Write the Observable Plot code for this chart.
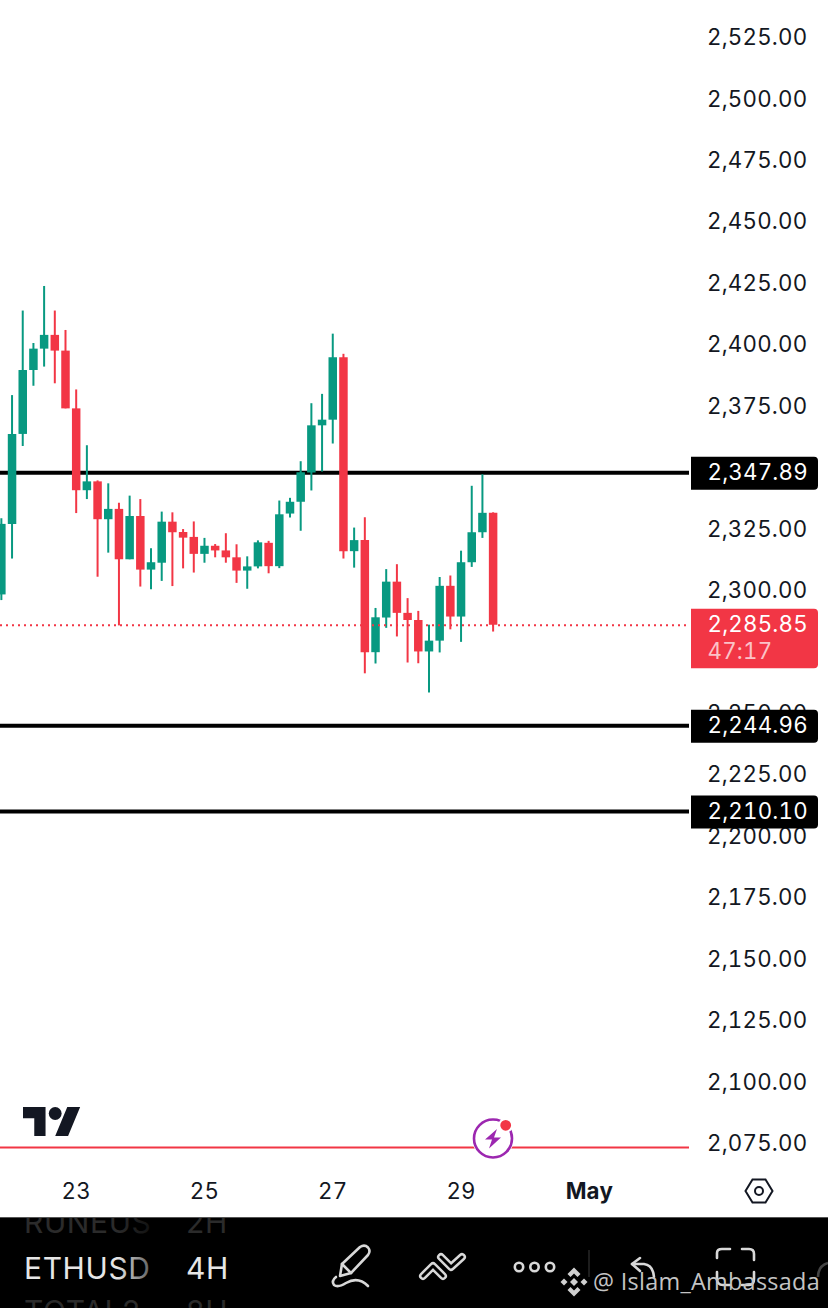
<!DOCTYPE html>
<html>
<head>
<meta charset="utf-8">
<script src="https://cdn.jsdelivr.net/npm/d3@7"></script>
<script src="https://cdn.jsdelivr.net/npm/@observablehq/plot@0.6"></script>
<style>
html,body{margin:0;padding:0;background:#fff;}
#page{position:relative;width:828px;height:1308px;overflow:hidden;background:#fff;}
#chart svg{display:block;overflow:hidden;}
#footer{position:absolute;left:0;top:1217px;width:828px;height:91px;background:#000;border-top:1px solid #555;box-sizing:border-box;}
#overlay{position:absolute;left:0;top:0;pointer-events:none;}
#overlay text{font-family:Inter,sans-serif;}
</style>
</head>
<body>
<div id="page">
<div id="chart"></div>
<div id="footer"></div>
<svg id="overlay" width="828" height="1308" viewBox="0 0 828 1308">
  <defs>
    <clipPath id="foot"><rect x="0" y="1218" width="828" height="90"/></clipPath>
    <linearGradient id="fadeMain" gradientUnits="userSpaceOnUse" x1="24" x2="153" y1="0" y2="0">
      <stop offset="0.72" stop-color="#e6e6e6"/><stop offset="1" stop-color="#555"/>
    </linearGradient>
    <linearGradient id="fadeDim" gradientUnits="userSpaceOnUse" x1="24" x2="153" y1="0" y2="0">
      <stop offset="0.72" stop-color="#2b2b2b"/><stop offset="1" stop-color="#101010"/>
    </linearGradient>
  </defs>
  <!-- TradingView mark -->
  <g transform="translate(23 1100.6) scale(1.61)" fill="#131722">
    <path d="M14 22H7V11H0V4h14v18zM28 22h-8l7.5-18h8L28 22z"/><circle cx="20" cy="8" r="4"/>
  </g>
  <!-- lightning badge -->
  <circle cx="493" cy="1138.5" r="21" fill="#fff"/>
  <circle cx="493" cy="1138.5" r="19" fill="none" stroke="#9c27b0" stroke-width="2.6"/>
  <path d="M497 1129 L485 1139.5 L492 1139.5 L489 1148.5 L501 1137.5 L494 1137.5 Z" fill="#9c27b0"/>
  <circle cx="505.7" cy="1125.3" r="6.4" fill="#f23645" stroke="#fff" stroke-width="2"/>
  <!-- settings hexagon -->
  <g fill="none" stroke="#131722" stroke-width="2">
    <path d="M752.5 1179.5 H765.5 L772.5 1191 L765.5 1202.500 H752.5 L745.5 1191 Z"/>
    <circle cx="759" cy="1191" r="4"/>
  </g>
  <g clip-path="url(#foot)">
    <g font-size="30" letter-spacing="0.6">
      <text x="24" y="1233" fill="url(#fadeDim)">RUNEUS</text>
      <text x="186" y="1233" fill="#2b2b2b">2H</text>
      <text x="24" y="1278.500" fill="url(#fadeMain)">ETHUSD</text>
      <text x="186" y="1278.500" fill="#e6e6e6">4H</text>
      <text x="24" y="1322" fill="#2b2b2b">TOTAL2</text>
      <text x="186" y="1322" fill="#2b2b2b">8H</text>
    </g>
    <!-- pencil -->
    <g fill="none" stroke="#d8d8d8" stroke-width="2.6" stroke-linejoin="round" stroke-linecap="round">
      <path d="M340 1276 L342 1264 L360 1247 Q364.500 1244 368 1247.500 Q371 1251 368 1255 L351 1273 Z"/>
      <path d="M342 1264 L351 1273"/>
      <path d="M336 1277 Q331 1281 334 1285 Q338 1288 346 1283 Q358 1276 368 1286"/>
    </g>
    <!-- strokes icon -->
    <g fill="none" stroke-linejoin="round" stroke-linecap="round">
      <path d="M423 1276 L433 1266 L443 1276 M441 1257 L451 1267 L462 1257" stroke="#d8d8d8" stroke-width="8"/>
      <path d="M423 1276 L433 1266 L443 1276 M441 1257 L451 1267 L462 1257" stroke="#000" stroke-width="3"/>
    </g>
    <!-- three dots -->
    <g fill="none" stroke="#d8d8d8" stroke-width="2.600">
      <circle cx="519" cy="1267" r="4.200"/><circle cx="534.500" cy="1267" r="4.200"/><circle cx="550" cy="1267" r="4.200"/>
    </g>
    <path d="M589 1250 V1277" stroke="#3a3a3a" stroke-width="1"/>
    <!-- undo -->
    <g fill="none" stroke="#d8d8d8" stroke-width="2.600" stroke-linecap="round" stroke-linejoin="round">
      <path d="M640 1258 L632 1264 L640 1271"/>
      <path d="M632 1264 H644 Q653 1265 654 1277"/>
      <path d="M717 1258 V1253 Q717 1249 722 1249 H730 M742 1249 H749 Q754 1249 754 1254 V1260"/>
      <path d="M717 1272 V1279 Q717 1285 723 1285 H730 M742 1285 H749 Q754 1285 754 1279 V1272"/>
    </g>
    <path d="M818 1277 Q818 1266 828 1263" fill="none" stroke="#444" stroke-width="2.600"/>
    <!-- watermark -->
    <g fill="#d0d0d0">
      <path d="M574 1267.500 L580.500 1274 L577.500 1277 L574 1273.500 L570.500 1277 L567.500 1274 Z"/>
      <path d="M574 1296.500 L580.500 1290 L577.500 1287 L574 1290.500 L570.500 1287 L567.500 1290 Z"/>
      <path d="M574 1278 L578 1282 L574 1286 L570 1282 Z"/>
      <path d="M564 1278.500 L567.500 1282 L564 1285.500 L560.500 1282 Z"/>
      <path d="M584 1278.500 L587.500 1282 L584 1285.500 L580.500 1282 Z"/>
    </g>
    <text x="593" y="1290" fill="#c4c4c4" style="font-family:'Open Sans',sans-serif" font-size="23.400" letter-spacing="0.3">@ Islam_Ambassada</text>
  </g>
</svg>
</div>
<script>
// Price levels and axis (labels for 2,275 and 2,350 sit fully behind the price tags)
const priceTicks = [2075,2100,2125,2150,2175,2200,2225,2250,2300,2325,2375,2400,2425,2450,2475,2500,2525];
const levelLines = [2347.89, 2244.96, 2210.10];
const lastPrice = 2285.85;
const countdown = "47:17";
const dayTicks = [new Date(Date.UTC(2026,3,23)), new Date(Date.UTC(2026,3,25)), new Date(Date.UTC(2026,3,27)), new Date(Date.UTC(2026,3,29))];
const monthTicks = [new Date(Date.UTC(2026,4,1))];
const firstCandle = Date.UTC(2026,3,21,20);   // 4-hour bars

const opens  = [2298.2,2326.9,2363.5,2389.5,2398.2,2403.8,2397.4,2373.9,2340.6,2344.2,2328.8,2333.0,2312.5,2330.1,2308.3,2311.1,2327.8,2323.6,2321.6,2314.7,2318.0,2316.1,2313.3,2307.9,2309.6,2319.2,2309.7,2331.1,2335.9,2347.8,2367.0,2369.3,2394.7,2315.8,2320.3,2274.7,2288.8,2303.4,2290.7,2287.8,2275.0,2279.4,2301.7,2289.2,2311.3,2323.5,2331.4];
const closes = [2326.9,2363.5,2389.5,2398.2,2403.8,2397.4,2373.9,2340.6,2344.2,2328.8,2333.0,2312.5,2330.1,2308.3,2311.3,2327.8,2323.5,2321.3,2314.7,2318.0,2316.1,2313.3,2307.9,2309.6,2319.4,2309.7,2330.8,2335.9,2347.9,2367.0,2369.3,2394.7,2315.8,2320.3,2274.7,2288.9,2303.4,2290.7,2287.8,2275.0,2279.4,2301.7,2289.2,2311.3,2323.5,2331.4,2285.85];
const highs  = [2329.2,2379.3,2413.7,2400.5,2423.7,2413.7,2405.8,2381.6,2358.9,2344.6,2343.4,2335.5,2338.4,2337.0,2317.0,2331.9,2331.6,2324.8,2327.9,2321.2,2318.7,2323.1,2318.6,2313.7,2320.2,2320.0,2336.4,2337.5,2352.4,2376.0,2379.8,2404.3,2396.1,2325.4,2329.6,2292.7,2308.5,2310.5,2296.7,2291.5,2285.9,2305.3,2305.9,2316.0,2342.4,2347.1,2331.6];
const lows   = [2295.9,2312.8,2358.6,2383.1,2390.9,2384.1,2373.9,2331.3,2337.0,2305.4,2315.2,2285.6,2312.5,2301.4,2300.3,2303.7,2301.6,2308.8,2307.1,2311.1,2313.3,2311.1,2302.9,2300.5,2308.8,2306.8,2308.9,2329.5,2324.1,2340.5,2348.2,2359.6,2312.8,2309.1,2266.1,2270.1,2284.6,2281.1,2270.5,2270.2,2258.3,2274.6,2284.0,2278.9,2309.4,2321.2,2283.1];

const FOUR_H = 4*3600*1000;
const candles = opens.map((o,i) => ({
  t: new Date(firstCandle + i*FOUR_H), o, c: closes[i], h: highs[i], l: lows[i],
  col: closes[i] >= o ? "#089981" : "#f23645"
}));

const fontStack = "Inter,sans-serif";
function priceTags(index, scales){
  const g = d3.create("svg:g").attr("text-anchor", "start").attr("font-variant", "tabular-nums");
  const box = (yTop, h, fill) => g.append("path")
    .attr("d", `M691 ${yTop} H814 Q818 ${yTop} 818 ${yTop+4} V${yTop+h-4} Q818 ${yTop+h} 814 ${yTop+h} H691 Z`)
    .attr("fill", fill);
  const label = (txt, y, fill) => g.append("text").text(txt)
    .attr("x", 707.5).attr("y", y).attr("dy", "0.35em")
    .attr("fill", fill).attr("font-family", fontStack)
    .attr("font-size", 22.3).attr("letter-spacing", 0.2);
  const fmt = d3.format(",.2f");
  for (const v of levelLines) {
    const y = scales.y(v);
    box(y-15.5, 33, "#000");
    label(fmt(v), y, "#fff");
  }
  const y = scales.y(lastPrice);
  box(y-16, 59.5, "#f23645");
  label(fmt(lastPrice), y-1, "#fff");
  label(countdown, y+26, "#fbc2c7");
  return g.node();
}

const chart = Plot.plot({
  width: 828, height: 1217,
  marginTop: 0, marginRight: 139, marginBottom: 47, marginLeft: 0,
  style: {fontFamily:fontStack, fontSize:"22.3px", background:"#fff", color:"#131722", letterSpacing:"0.2px"},
  x: {type:"utc", domain:[new Date(Date.UTC(2026,3,23) - 7.08*FOUR_H), new Date(Date.UTC(2026,3,23) + 57.37*FOUR_H)]},
  y: {domain:[2064.02, 2540.05], range:[1170,0]},
  marks: [
    Plot.ruleY(levelLines, {stroke:"#000", strokeWidth:4}),
    Plot.ruleY([2073.4], {stroke:"#f23645", strokeWidth:2}),
    Plot.ruleX(candles, {x:"t", y1:"l", y2:"h", stroke:"col", strokeWidth:2}),
    Plot.ruleX(candles, {x:"t", y1:"o", y2:"c", stroke:"col", strokeWidth:8.5}),
    Plot.ruleY([lastPrice], {stroke:"#f23645", strokeWidth:2, strokeDasharray:"2 4"}),
    Plot.axisY(priceTicks, {anchor:"right", tickSize:0, tickPadding:17.5, tickFormat:d3.format(",.2f"), label:null, dy:0.5, fill:"#131722"}),
    Plot.axisX(dayTicks, {anchor:"bottom", tickSize:0, tickPadding:13, tickFormat:d3.utcFormat("%d"), label:null, fill:"#131722"}),
    Plot.axisX(monthTicks, {anchor:"bottom", tickSize:0, tickPadding:13, tickFormat:d3.utcFormat("%b"), label:null, fill:"#131722", fontWeight:"bold"}),
    priceTags
  ]
});
document.getElementById("chart").append(chart);
</script>
</body>
</html>
